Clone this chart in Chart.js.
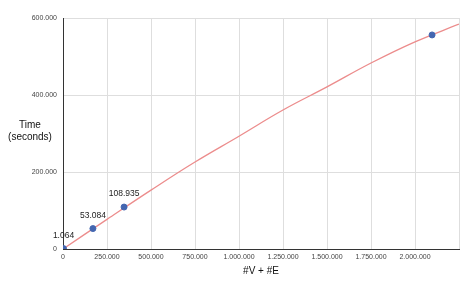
<!DOCTYPE html>
<html>
<head>
<meta charset="utf-8">
<script src="https://cdn.jsdelivr.net/npm/chart.js@4"></script>
<style>
  html, body { margin: 0; padding: 0; background: #fff; }
  #wrap { width: 474px; height: 293px; position: relative; }
</style>
</head>
<body>
<div id="wrap"><canvas id="chart"></canvas></div>
<script>
// measured points (#V + #E vs. time in seconds)
const vePlusE = [3000, 170000, 347000, 2097000];
const timeSeconds = [1064, 53084, 108935, 556000];
const showLabel = [true, true, true, false];

// trendline
const trendX = [0, 250000, 500000, 750000, 1000000, 1250000, 1500000, 1750000, 2000000, 2250000];
const trendY = [0, 77000, 153000, 226000, 293000, 361000, 421000, 483000, 538000, 584000];

const xTicks = [0, 250000, 500000, 750000, 1000000, 1250000, 1500000, 1750000, 2000000];
const yTicks = [0, 200000, 400000, 600000];

const fmt = v => Math.round(v).toString().replace(/\B(?=(\d{3})+(?!\d))/g, '.');

const FONT = '"Liberation Sans", Arial, sans-serif';

// draws the horizontal y title and the value labels above points
const extras = {
  id: 'extras',
  afterDatasetsDraw(chart) {
    const ctx = chart.ctx;
    const meta = chart.getDatasetMeta(1);
    ctx.save();
    ctx.fillStyle = '#222';
    ctx.font = '8.5px ' + FONT;
    ctx.textAlign = 'center';
    ctx.textBaseline = 'middle';
    meta.data.forEach((pt, i) => {
      if (!showLabel[i]) return;
      ctx.fillText(fmt(timeSeconds[i]), pt.x, pt.y - 13);
    });
    ctx.font = '10px ' + FONT;
    ctx.fillStyle = '#111';
    ctx.fillText('Time', 30, 125);
    ctx.fillText('(seconds)', 30, 137);
    ctx.restore();
  }
};

const ctx = document.getElementById('chart').getContext('2d');
new Chart(ctx, {
  type: 'scatter',
  data: {
    datasets: [
      {
        label: 'Trendline',
        type: 'line',
        data: trendX.map((x, i) => ({ x, y: trendY[i] })),
        borderColor: 'rgb(236, 140, 140)',
        borderWidth: 1.3,
        pointRadius: 0,
        tension: 0.4,
        fill: false,
        order: 2,
      },
      {
        label: 'Time',
        data: vePlusE.map((x, i) => ({ x, y: timeSeconds[i] })),
        backgroundColor: '#4466b0',
        borderColor: '#4466b0',
        pointRadius: 3,
        order: 1,
      },
    ],
  },
  options: {
    responsive: true,
    maintainAspectRatio: false,
    animation: false,
    layout: { padding: { top: 18, right: 15, left: 0, bottom: 0 } },
    plugins: {
      legend: { display: false },
      tooltip: { enabled: false },
    },
    scales: {
      x: {
        type: 'linear',
        min: 0,
        max: 2250000,
        afterBuildTicks: s => { s.ticks = xTicks.concat([2250000]).map(v => ({ value: v })); },
        afterFit: s => { s.height = 44; },
        ticks: {
          callback: v => (v === 2250000 ? '' : fmt(v)),
          color: '#444',
          font: { size: 7, family: FONT },
          maxRotation: 0,
          padding: 4,
        },
        grid: { color: '#dedede', drawTicks: false },
        border: { color: '#333', width: 1 },
        title: {
          display: true,
          text: '#V + #E',
          color: '#111',
          font: { size: 10, family: FONT },
          padding: { top: 0, bottom: 16 },
        },
      },
      y: {
        min: 0,
        max: 600000,
        afterBuildTicks: s => { s.ticks = yTicks.map(v => ({ value: v })); },
        afterFit: s => { s.width = 63; },
        ticks: {
          callback: v => fmt(v),
          color: '#444',
          font: { size: 7, family: FONT },
          padding: 6,
        },
        grid: { color: '#dedede', drawTicks: false },
        border: { color: '#333', width: 1 },
      },
    },
  },
  plugins: [extras],
});
</script>
</body>
</html>
